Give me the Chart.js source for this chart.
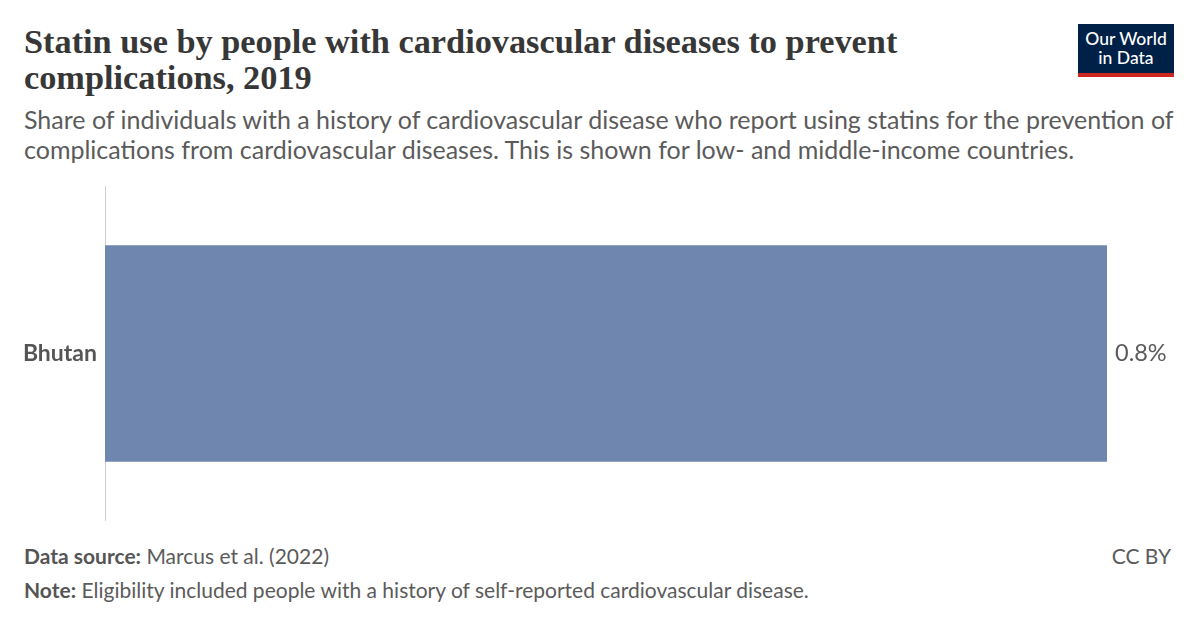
<!DOCTYPE html>
<html>
<head>
<meta charset="utf-8">
<script src="https://cdn.jsdelivr.net/npm/chart.js@4"></script>
<style>
  html, body { margin: 0; padding: 0; background: #fff; }
  body { width: 1200px; height: 627px; position: relative; overflow: hidden; font-family: Lato, sans-serif; }
  #title { position: absolute; left: 24px; top: 23px; font-family: "Liberation Serif", serif; font-weight: bold; font-size: 34.3px; line-height: 36px; color: #373737; }
  #subtitle { position: absolute; left: 24px; top: 104px; font-size: 25px; line-height: 30px; color: #5b5b5b; white-space: nowrap; }
  #logo { position: absolute; left: 1078px; top: 24px; width: 96px; height: 53px; background: #002147; border-bottom: 4px solid #ce261e; box-sizing: border-box; color: #fff; font-size: 17.5px; line-height: 19px; text-align: center; padding-top: 5px; font-weight: 500; }
  #chartWrap { position: absolute; left: 0; top: 165px; width: 1200px; height: 377px; }
  .foot { position: absolute; left: 24px; font-size: 21px; color: #5b5b5b; white-space: nowrap; }
  .foot b { color: #555; }
  #cc { position: absolute; right: 29px; top: 543px; font-size: 21px; color: #5b5b5b; }
</style>
</head>
<body>
<div id="title">Statin use by people with cardiovascular diseases to prevent<br>complications, 2019</div>
<div id="subtitle">Share of individuals with a history of cardiovascular disease who report using statins for the prevention of<br>complications from cardiovascular diseases. This is shown for low- and middle-income countries.</div>
<div id="logo">Our World<br>in Data</div>
<div id="chartWrap"><canvas id="chart" width="1200" height="377"></canvas></div>
<div class="foot" style="top:543px"><b>Data source:</b> Marcus et al. (2022)</div>
<div class="foot" style="top:577px"><b>Note:</b> Eligibility included people with a history of self-reported cardiovascular disease.</div>
<div id="cc">CC BY</div>
<script>
const countries = ['Bhutan'];
const statinShare = [0.8];

// draws "0.8%" to the right of each bar
const valueLabels = {
    id: 'valueLabels',
    afterDatasetsDraw(chart) {
        const ctx = chart.ctx;
        const meta = chart.getDatasetMeta(0);
        ctx.save();
        ctx.font = '23.5px Lato';
        ctx.fillStyle = '#5b5b5b';
        ctx.textBaseline = 'middle';
        meta.data.forEach((bar, i) => {
            ctx.fillText(statinShare[i] + '%', bar.x + 8, bar.y);
        });
        ctx.restore();
    }
};

new Chart(document.getElementById('chart'), {
    type: 'bar',
    data: {
        labels: countries,
        datasets: [{
            data: statinShare,
            backgroundColor: '#6f87af',
            barPercentage: 1,
            categoryPercentage: 0.65
        }]
    },
    options: {
        indexAxis: 'y',
        responsive: false,
        animation: false,
        maintainAspectRatio: false,
        layout: { padding: { top: 5, right: 93, bottom: 10, left: 0 } },
        plugins: { legend: { display: false }, tooltip: { enabled: false } },
        scales: {
            x: { display: false, min: 0, max: 0.8 },
            y: {
                afterFit: (scale) => { scale.width = 105; },
                grid: { display: false, drawTicks: false },
                border: { display: true, color: '#cfcfcf', width: 1 },
                ticks: { color: '#555', padding: 8, font: { family: 'Lato', size: 23, weight: 'bold' } }
            }
        }
    },
    plugins: [valueLabels]
});
</script>
</body>
</html>
